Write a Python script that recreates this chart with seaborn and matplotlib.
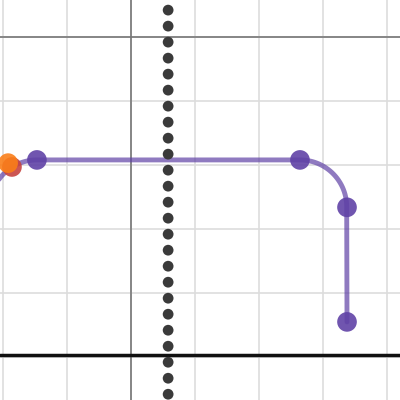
import numpy as np
import matplotlib
matplotlib.use('Agg')
import matplotlib.pyplot as plt
import seaborn as sns

sns.set_style('white')

# data (graph units)
corner_x = [-1.47, 2.64, 3.375, 3.375]
corner_y = [-1.92, -1.92, -2.66, -4.45]
arc_r = 0.73
orange_pt = (-1.92, -1.97)
red_pt = (-1.86, -2.03)
dots_x = 0.58
dots_y = np.arange(0.42, -5.8, -0.25)
base_y = -4.97

fig, ax = plt.subplots(figsize=(4, 4), dpi=100)
fig.subplots_adjust(0, 0, 1, 1)
ax.set_xlim(-2.047, 4.203)
ax.set_ylim(-5.67, 0.578)

for gx in range(-2, 5):
    ax.axvline(gx, color='#dddddd', lw=1.2, zorder=0)
for gy in range(-6, 1):
    ax.axhline(gy, color='#dddddd', lw=1.2, zorder=0)
ax.axvline(0, color='#777777', lw=1.2, zorder=0)
ax.axhline(0, color='#777777', lw=1.2, zorder=0)
ax.axhline(base_y, color='#111111', lw=2.5, zorder=1)

# purple path: left arc, flat, right arc, vertical drop
cx0, cy0 = corner_x[0], corner_y[0] - arc_r
t = np.linspace(np.pi * 0.5, np.pi * 0.82, 30)
lx, ly = cx0 + arc_r * np.cos(t[::-1]), cy0 + arc_r * np.sin(t[::-1])
cx1, cy1 = corner_x[1], corner_y[1] - arc_r
t2 = np.linspace(np.pi * 0.5, 0, 30)
rx, ry = cx1 + arc_r * np.cos(t2), cy1 + arc_r * np.sin(t2)
px = np.concatenate([lx, rx, [corner_x[3]]])
py = np.concatenate([ly, ry, [corner_y[3]]])
ax.plot(px, py, color='#6042a6', lw=3.5, alpha=0.7, zorder=2, solid_capstyle='round')

sns.scatterplot(x=corner_x, y=corner_y, color='#6042a6', s=200, alpha=0.9,
                edgecolor='none', ax=ax, zorder=4)
ax.scatter([red_pt[0]], [red_pt[1]], color='#c74440', s=200, alpha=0.9, edgecolor='none', zorder=4)
ax.scatter([orange_pt[0]], [orange_pt[1]], color='#fa7e19', s=200, alpha=0.9, edgecolor='none', zorder=5)
sns.scatterplot(x=np.full(len(dots_y), dots_x), y=dots_y, color='#3a3a3a', s=60,
                edgecolor='none', ax=ax, zorder=3)

ax.set_xticks([]); ax.set_yticks([])
for s in ax.spines.values():
    s.set_visible(False)
fig.savefig('out.png', dpi=100)
